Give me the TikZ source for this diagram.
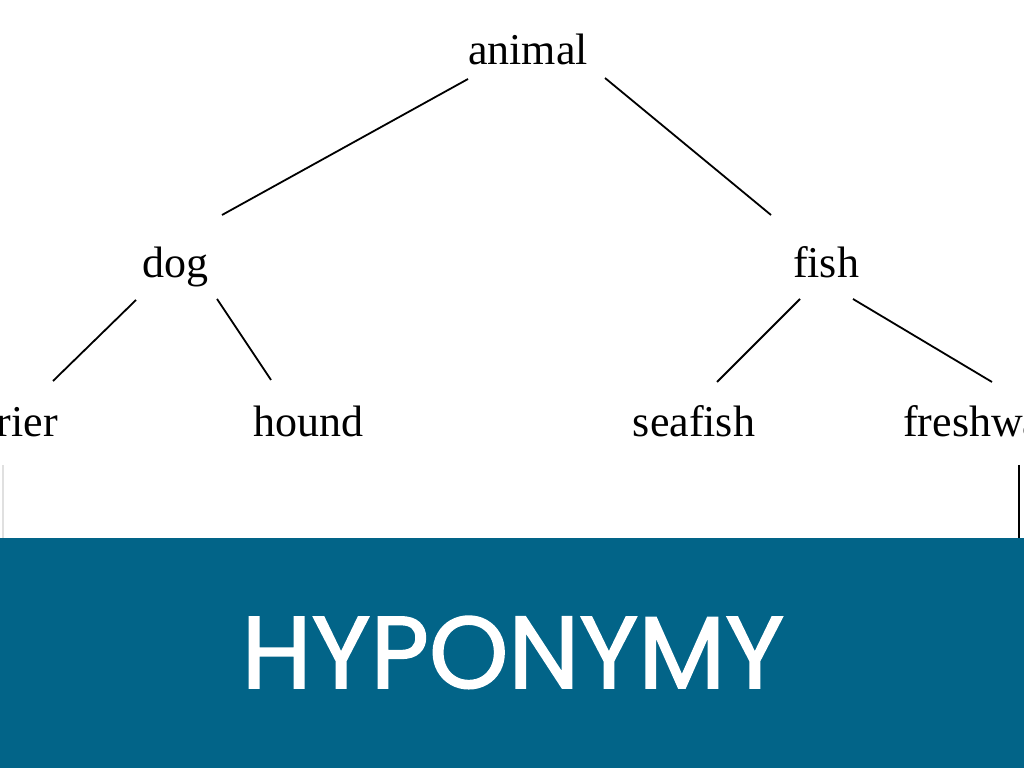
\documentclass[tikz,border=0pt]{standalone}
\usepackage{fontspec}
\setmainfont{Liberation Serif}
\newfontfamily\bannerfont[FakeBold=1.6, FakeStretch=0.99]{Poppins}
\definecolor{bannerblue}{RGB}{2,100,136}

\begin{document}
\begin{tikzpicture}[x=1pt, y=1pt,
        word/.style={font=\fontsize{44}{44}\selectfont, inner sep=0pt, anchor=base},
        branch/.style={line width=1.8pt, black},
        title/.style={font=\bannerfont\fontsize{102}{102}\selectfont, text=white, inner sep=0pt, anchor=base}]

        \useasboundingbox (0,0) rectangle (1024,768);
        \clip (0,0) rectangle (1024,768);

        % words of the tree
        \node[word] (animal) at (528,703) {animal};
        \node[word] (dog) at (175,490) {dog};
        \node[word] (fish) at (826,490) {fish};
        \node[word] (terrier) at (4,331) {terrier};
        \node[word] (hound) at (308,331) {hound};
        \node[word] (seafish) at (694,331) {seafish};
        \node[word] (freshwater) at (996,331) {freshwater};

        % branches
        \draw[branch] ([xshift=-60pt,yshift=-14pt]animal.base) -- ([xshift=47pt,yshift=63pt]dog.base);
        \draw[branch] ([xshift=77pt,yshift=-13pt]animal.base) -- ([xshift=-55pt,yshift=63pt]fish.base);
        \draw[branch] ([xshift=-39pt,yshift=-22pt]dog.base) -- ([xshift=49pt,yshift=56pt]terrier.base);
        \draw[branch] ([xshift=42pt,yshift=-21pt]dog.base) -- ([xshift=-37pt,yshift=57pt]hound.base);
        \draw[branch] ([xshift=-26pt,yshift=-21pt]fish.base) -- ([xshift=23pt,yshift=55pt]seafish.base);
        \draw[branch] ([xshift=27pt,yshift=-21pt]fish.base) -- ([xshift=-4pt,yshift=55pt]freshwater.base);

        % stubs going on below the banner
        \draw[line width=1.2pt, black!12] ([xshift=-1pt,yshift=-28pt]terrier.base) -- ++(0,-80);
        \draw[line width=2pt] ([xshift=23pt,yshift=-28pt]freshwater.base) -- ++(0,-80);

        % banner
        \fill[bannerblue] (0,0) rectangle (1024,230);
        \node[title] (hyponymy) at (513,80) {HYPONYMY};
\end{tikzpicture}
\end{document}
